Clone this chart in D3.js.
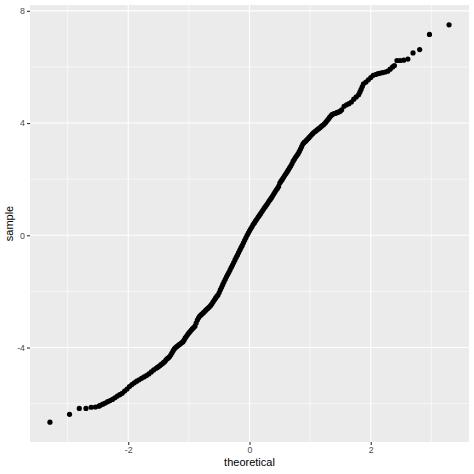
<!DOCTYPE html>
<html>
<head>
<meta charset="utf-8">
<script src="https://cdn.jsdelivr.net/npm/d3@7"></script>
<style>
html, body { margin: 0; padding: 0; background: #ffffff; }
svg { display: block; }
</style>
</head>
<body>
<svg id="chart" width="474" height="474"></svg>
<script>
// Points (theoretical quantile, sample quantile)
const theoretical = [
  -3.291, -2.968, -2.807, -2.697, -2.612, -2.543, -2.484,
  -2.46, -2.42, -2.38, -2.34, -2.30, -2.26, -2.22, -2.18, -2.14, -2.10,
  -2.06, -2.02, -1.98, -1.94, -1.90, -1.86, -1.82, -1.78, -1.74, -1.70,
  -1.66, -1.62, -1.58, -1.54,
  -1.52, -1.50, -1.48, -1.46, -1.44, -1.42, -1.40, -1.38, -1.36, -1.34,
  -1.32, -1.30, -1.28, -1.26, -1.24, -1.22, -1.20, -1.18, -1.16, -1.14,
  -1.12, -1.10, -1.08, -1.06, -1.04, -1.02, -1.00, -0.98, -0.96, -0.94,
  -0.92, -0.90, -0.88, -0.86, -0.84, -0.82, -0.80, -0.78, -0.76, -0.74,
  -0.72, -0.70, -0.68, -0.66, -0.64, -0.62, -0.60, -0.58, -0.56, -0.54,
  -0.52, -0.50, -0.48, -0.46, -0.44, -0.42, -0.40, -0.38, -0.36, -0.34,
  -0.32, -0.30, -0.28, -0.26, -0.24, -0.22, -0.20, -0.18, -0.16, -0.14,
  -0.12, -0.10, -0.08, -0.06, -0.04, -0.02, 0.00, 0.02, 0.04, 0.06,
  0.08, 0.10, 0.12, 0.14, 0.16, 0.18, 0.20, 0.22, 0.24, 0.26,
  0.28, 0.30, 0.32, 0.34, 0.36, 0.38, 0.40, 0.42, 0.44, 0.46,
  0.48, 0.50, 0.52, 0.54, 0.56, 0.58, 0.60, 0.62, 0.64, 0.66,
  0.68, 0.70, 0.72, 0.74, 0.76, 0.78, 0.80, 0.82, 0.84, 0.86,
  0.88, 0.90, 0.92, 0.94, 0.96, 0.98, 1.00, 1.02, 1.04, 1.06,
  1.08, 1.10, 1.12, 1.14, 1.16, 1.18, 1.20, 1.22, 1.24, 1.26,
  1.28, 1.30, 1.32, 1.34, 1.36, 1.38, 1.40, 1.42, 1.44, 1.46,
  1.48, 1.50,
  1.52, 1.56, 1.60, 1.64, 1.68, 1.72, 1.76, 1.80, 1.82, 1.84, 1.86, 1.88,
  1.92, 1.96, 2.00, 2.04, 2.08, 2.12, 2.16, 2.20, 2.24, 2.28,
  2.32, 2.36, 2.39,
  2.432, 2.484, 2.543, 2.612, 2.697, 2.807, 2.968, 3.291
];
const sample = [
  -6.66, -6.38, -6.17, -6.17, -6.13, -6.12, -6.09,
  -6.06, -6.02, -5.98, -5.93, -5.89, -5.85, -5.79, -5.73, -5.68, -5.63,
  -5.55, -5.48, -5.39, -5.32, -5.26, -5.20, -5.15, -5.10, -5.05, -5.00,
  -4.94, -4.87, -4.80, -4.74,
  -4.71, -4.68, -4.65, -4.61, -4.58, -4.54, -4.51, -4.45, -4.40, -4.37,
  -4.33, -4.27, -4.20, -4.12, -4.05, -4.00, -3.97, -3.93, -3.90, -3.87,
  -3.83, -3.80, -3.74, -3.66, -3.60, -3.54, -3.48, -3.43, -3.38, -3.33,
  -3.29, -3.24, -3.13, -3.02, -2.94, -2.88, -2.84, -2.80, -2.76, -2.72,
  -2.67, -2.63, -2.59, -2.55, -2.50, -2.44, -2.37, -2.31, -2.24, -2.18,
  -2.13, -2.04, -1.94, -1.85, -1.75, -1.66, -1.57, -1.48, -1.40, -1.32,
  -1.23, -1.14, -1.06, -0.97, -0.88, -0.79, -0.71, -0.62, -0.53, -0.44,
  -0.36, -0.27, -0.18, -0.09, 0.00, 0.08, 0.16, 0.23, 0.30, 0.38,
  0.44, 0.51, 0.57, 0.64, 0.70, 0.76, 0.83, 0.89, 0.96, 1.02,
  1.08, 1.14, 1.21, 1.27, 1.33, 1.40, 1.47, 1.54, 1.61, 1.67,
  1.74, 1.86, 1.93, 1.99, 2.06, 2.13, 2.19, 2.26, 2.33, 2.40,
  2.47, 2.55, 2.64, 2.71, 2.78, 2.84, 2.90, 2.98, 3.07, 3.16,
  3.25, 3.31, 3.34, 3.39, 3.43, 3.48, 3.53, 3.57, 3.62, 3.66,
  3.70, 3.73, 3.77, 3.80, 3.83, 3.87, 3.91, 3.94, 3.98, 4.03,
  4.09, 4.14, 4.20, 4.25, 4.30, 4.32, 4.34, 4.35, 4.37, 4.39,
  4.40, 4.43,
  4.47, 4.60, 4.65, 4.69, 4.75, 4.85, 4.93, 5.01, 5.10, 5.20, 5.30, 5.40,
  5.46, 5.54, 5.62, 5.70, 5.73, 5.76, 5.78, 5.80, 5.82, 5.85,
  5.92, 6.00, 6.05,
  6.23, 6.23, 6.24, 6.28, 6.50, 6.62, 7.16, 7.50
];
const xMajorTicks = [-2, 0, 2];
const xMinorTicks = [-3, -1, 1, 3];
const yMajorTicks = [-4, 0, 4, 8];
const yMinorTicks = [-6, -2, 2, 6];
const xTitle = "theoretical";
const yTitle = "sample";

const svg = d3.select("#chart");
const panel = { left: 30, right: 469, top: 5, bottom: 442 };

const pts = theoretical.map((t, i) => ({ x: t, y: sample[i] }));

function expand(ext, mult) {
  const r = ext[1] - ext[0];
  return [ext[0] - r * mult, ext[1] + r * mult];
}
const x = d3.scaleLinear().domain(expand(d3.extent(theoretical), 0.05)).range([panel.left, panel.right]);
const y = d3.scaleLinear().domain(expand(d3.extent(sample), 0.05)).range([panel.bottom, panel.top]);

// panel background
svg.append("rect")
  .attr("x", panel.left).attr("y", panel.top)
  .attr("width", panel.right - panel.left).attr("height", panel.bottom - panel.top)
  .attr("fill", "#EBEBEB");

const grid = svg.append("g");
grid.selectAll("line.xminor").data(xMinorTicks).join("line")
  .attr("x1", d => x(d)).attr("x2", d => x(d))
  .attr("y1", panel.top).attr("y2", panel.bottom)
  .attr("stroke", "#ffffff").attr("stroke-width", 0.55);
grid.selectAll("line.yminor").data(yMinorTicks).join("line")
  .attr("y1", d => y(d)).attr("y2", d => y(d))
  .attr("x1", panel.left).attr("x2", panel.right)
  .attr("stroke", "#ffffff").attr("stroke-width", 0.55);
grid.selectAll("line.xmajor").data(xMajorTicks).join("line")
  .attr("x1", d => x(d)).attr("x2", d => x(d))
  .attr("y1", panel.top).attr("y2", panel.bottom)
  .attr("stroke", "#ffffff").attr("stroke-width", 1.1);
grid.selectAll("line.ymajor").data(yMajorTicks).join("line")
  .attr("y1", d => y(d)).attr("y2", d => y(d))
  .attr("x1", panel.left).attr("x2", panel.right)
  .attr("stroke", "#ffffff").attr("stroke-width", 1.1);

// points
svg.append("g").selectAll("circle").data(pts).join("circle")
  .attr("cx", d => x(d.x)).attr("cy", d => y(d.y))
  .attr("r", 2.6).attr("fill", "#000000");

const fmt = d => (d < 0 ? "-" + Math.abs(d) : String(d));

const xAxis = svg.append("g")
  .attr("transform", `translate(0,${panel.bottom})`)
  .call(d3.axisBottom(x).tickValues(xMajorTicks).tickSize(3).tickPadding(2).tickFormat(fmt));
const yAxis = svg.append("g")
  .attr("transform", `translate(${panel.left},0)`)
  .call(d3.axisLeft(y).tickValues(yMajorTicks).tickSize(3).tickPadding(2).tickFormat(fmt));

[xAxis, yAxis].forEach(a => {
  a.select(".domain").remove();
  a.selectAll(".tick line").attr("stroke", "#333333").attr("stroke-width", 1.1);
  a.selectAll(".tick text")
    .attr("fill", "#4D4D4D")
    .style("font-family", "'Liberation Sans', Arial, sans-serif")
    .style("font-size", "8.8px");
});

svg.append("text")
  .attr("x", (panel.left + panel.right) / 2).attr("y", 466)
  .attr("text-anchor", "middle")
  .style("font-family", "'Liberation Sans', Arial, sans-serif")
  .style("font-size", "11px").attr("fill", "#000000")
  .text(xTitle);
svg.append("text")
  .attr("transform", `translate(13,${(panel.top + panel.bottom) / 2}) rotate(-90)`)
  .attr("text-anchor", "middle")
  .style("font-family", "'Liberation Sans', Arial, sans-serif")
  .style("font-size", "11px").attr("fill", "#000000")
  .text(yTitle);
</script>
</body>
</html>
